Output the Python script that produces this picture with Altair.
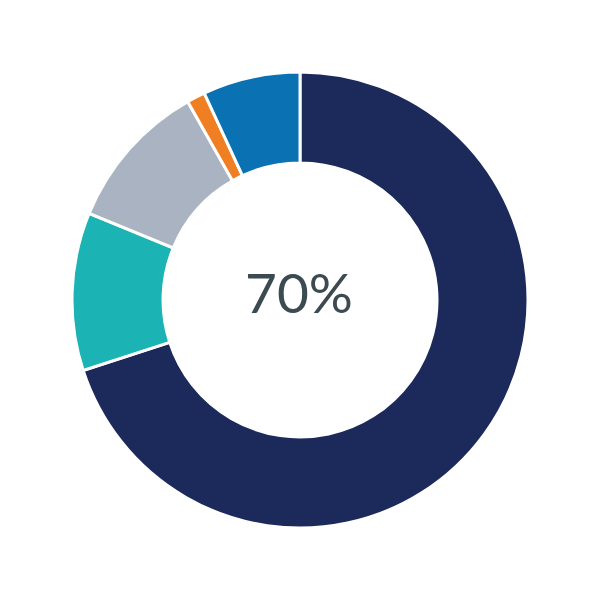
import altair as alt
import pandas as pd

categories = ["A", "B", "C", "D", "E"]
values = [70.0, 11.2, 10.6, 1.3, 6.9]
colors = ["#1c2a5b", "#1bb3b4", "#a9b3c1", "#f07e23", "#0a72b2"]
center_label = ["70%"]

df = pd.DataFrame({"cat": categories, "val": values, "ord": list(range(len(categories)))})

arc = alt.Chart(df).mark_arc(outerRadius=228, innerRadius=137, stroke="white", strokeWidth=3).encode(
    theta=alt.Theta("val:Q", stack=True),
    color=alt.Color("cat:N", scale=alt.Scale(domain=categories, range=colors), legend=None),
    order=alt.Order("ord:Q"),
)

text = alt.Chart(pd.DataFrame({"t": center_label})).mark_text(
    fontSize=55, font="Lato", color="#3c4a51", align="center", baseline="middle", dy=-4, dx=-1
).encode(text="t:N")

chart = (arc + text).properties(width=574, height=574).configure_view(stroke=None)
chart.save("out.html", embed_options={"renderer": "svg", "actions": False})
